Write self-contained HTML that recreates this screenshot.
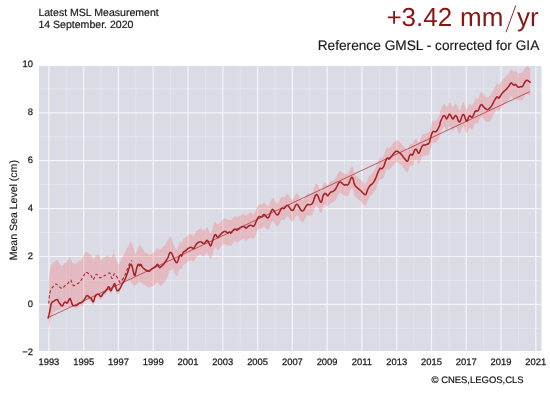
<!DOCTYPE html>
<html lang="en"><head><meta charset="utf-8"><title>Mean Sea Level</title>
<style>html,body{margin:0;padding:0;background:#fff;}body{width:550px;height:393px;position:relative;overflow:hidden;}</style>
</head><body>
<svg width="550" height="393" viewBox="0 0 550 393" style="position:absolute;left:0;top:0" text-rendering="geometricPrecision">
<rect width="550" height="393" fill="#fff"/>
<rect x="39.0" y="66.0" width="502.5" height="285.0" fill="#dadbe5"/>
<clipPath id="c"><rect x="39.0" y="66.0" width="502.5" height="285.0"/></clipPath>
<g clip-path="url(#c)">
<path d="M66.29,66.0V351.0M101.07,66.0V351.0M135.85,66.0V351.0M170.63,66.0V351.0M205.41,66.0V351.0M240.19,66.0V351.0M274.97,66.0V351.0M309.75,66.0V351.0M344.53,66.0V351.0M379.31,66.0V351.0M414.09,66.0V351.0M448.87,66.0V351.0M483.65,66.0V351.0M518.43,66.0V351.0M39.0,328.35H541.5M39.0,280.45H541.5M39.0,232.55H541.5M39.0,184.65H541.5M39.0,136.75H541.5M39.0,88.85H541.5" stroke="#fff" stroke-opacity="0.4" stroke-width="0.65" fill="none"/>
<path d="M48.90,66.0V351.0M83.68,66.0V351.0M118.46,66.0V351.0M153.24,66.0V351.0M188.02,66.0V351.0M222.80,66.0V351.0M257.58,66.0V351.0M292.36,66.0V351.0M327.14,66.0V351.0M361.92,66.0V351.0M396.70,66.0V351.0M431.48,66.0V351.0M466.26,66.0V351.0M501.04,66.0V351.0M535.82,66.0V351.0M39.0,352.30H541.5M39.0,304.40H541.5M39.0,256.50H541.5M39.0,208.60H541.5M39.0,160.70H541.5M39.0,112.80H541.5M39.0,64.90H541.5" stroke="#fff" stroke-opacity="0.72" stroke-width="1.2" fill="none"/>
<path d="M48.6,283.6C48.6,282.5 48.4,283.1 48.8,279.5C49.2,276.0 49.4,274.4 50.1,270.4C50.9,266.3 50.6,266.4 51.6,264.2C52.7,262.1 52.8,263.3 54.2,262.2C55.5,261.1 55.6,260.5 56.7,260.2C57.8,259.9 57.2,259.8 58.2,261.2C59.3,262.6 59.7,264.0 60.8,265.3C61.9,266.5 61.4,266.3 62.3,265.8C63.3,265.2 63.4,264.1 64.4,263.2C65.3,262.4 64.9,263.5 65.9,262.7C66.8,261.9 66.8,261.5 67.9,260.2C69.0,258.8 68.9,257.2 70.0,257.6C71.0,258.0 70.9,260.1 72.0,261.7C73.1,263.3 72.8,263.5 74.0,263.8C75.3,264.0 75.2,263.4 76.6,262.7C77.9,262.1 77.6,262.2 79.1,261.2C80.6,260.2 80.8,261.1 82.2,259.2C83.5,257.3 83.3,256.0 84.2,254.1C85.2,252.2 84.7,252.3 85.8,252.0C86.8,251.8 86.8,252.1 88.3,253.1C89.8,254.0 90.0,253.8 91.3,255.6C92.7,257.4 92.2,259.7 93.4,259.7C94.6,259.7 94.7,257.0 95.9,255.6C97.2,254.2 96.9,254.4 98.0,254.6C99.0,254.7 99.1,254.7 99.8,256.1C100.5,257.6 99.8,259.4 100.6,260.0C101.4,260.7 101.7,259.3 102.9,258.5C104.1,257.7 103.8,257.8 105.2,257.0C106.6,256.2 106.8,255.2 108.2,255.4C109.7,255.7 109.3,258.0 110.5,257.8C111.8,257.5 111.8,255.7 112.8,254.7C113.9,253.7 113.3,252.3 114.4,253.9C115.4,255.6 115.4,258.2 116.7,260.8C117.9,263.4 117.9,263.9 119.0,263.9C120.0,263.8 119.6,262.7 120.6,260.6C121.7,258.4 121.7,258.2 122.9,256.0C124.1,253.7 124.0,254.4 125.2,252.2C126.4,249.9 126.3,250.0 127.5,247.6C128.7,245.1 128.8,244.4 129.8,243.0C130.8,241.6 130.5,241.4 131.3,242.2C132.1,243.0 132.0,243.6 132.8,246.0C133.7,248.5 133.5,249.3 134.4,251.4C135.2,253.4 134.9,254.7 135.9,253.7C136.9,252.7 137.1,249.8 138.2,247.6C139.3,245.3 139.0,245.3 140.0,245.3C141.0,245.3 140.9,245.9 142.0,247.6C143.1,249.2 143.1,250.0 144.3,251.4C145.5,252.8 145.2,252.1 146.6,252.9C148.0,253.7 148.0,254.4 149.6,254.4C151.3,254.4 151.3,253.7 152.7,252.9C154.1,252.1 153.8,252.6 155.0,251.4C156.2,250.2 156.0,248.7 157.3,248.3C158.5,247.9 158.1,250.1 159.6,249.8C161.0,249.6 161.2,248.8 162.6,247.6C164.0,246.3 163.7,246.9 164.9,245.3C166.1,243.6 166.0,243.5 167.2,241.4C168.4,239.4 168.5,238.9 169.5,237.6C170.5,236.4 170.2,235.7 171.0,236.9C171.8,238.1 171.8,239.9 172.6,242.2C173.4,244.5 173.3,243.9 174.1,245.6C174.9,247.3 174.9,247.6 175.6,248.7C176.4,249.7 176.2,249.8 176.9,249.4C177.5,249.0 177.4,248.8 178.1,247.1C178.7,245.5 178.6,244.8 179.3,243.3C180.0,241.9 179.9,241.9 180.5,241.8C181.2,241.7 181.1,243.5 181.8,242.9C182.4,242.3 182.2,240.8 183.0,239.5C183.7,238.3 183.7,238.9 184.5,238.3C185.3,237.7 185.2,238.0 186.0,237.3C186.8,236.6 186.7,236.4 187.6,235.8C188.4,235.2 188.3,235.4 189.1,235.0C189.9,234.6 189.8,234.3 190.6,234.3C191.4,234.2 191.4,234.3 192.1,234.8C192.9,235.2 192.7,235.9 193.3,235.8C194.0,235.7 193.9,235.3 194.6,234.3C195.2,233.3 195.1,233.1 195.8,232.0C196.5,230.9 196.5,230.9 197.3,230.2C198.1,229.5 198.0,229.7 198.8,229.3C199.7,228.9 199.6,228.7 200.4,228.7C201.2,228.7 201.1,228.8 201.9,229.3C202.7,229.8 202.6,230.4 203.4,230.6C204.2,230.7 204.2,230.4 205.0,229.8C205.7,229.2 205.5,228.9 206.2,228.3C206.8,227.7 206.7,227.1 207.4,227.6C208.1,228.0 208.0,228.6 208.6,229.9C209.3,231.1 209.3,231.3 209.8,232.2C210.4,233.0 210.2,233.5 210.8,232.9C211.3,232.3 211.3,231.7 212.0,229.9C212.6,228.1 212.6,228.0 213.2,226.1C213.9,224.2 213.8,223.9 214.4,222.7C215.1,221.6 215.0,221.5 215.7,221.8C216.3,222.1 216.2,223.1 216.9,223.8C217.5,224.6 217.4,224.8 218.1,224.6C218.7,224.4 218.7,223.8 219.3,223.1C220.0,222.3 219.9,222.6 220.5,221.9C221.2,221.1 221.0,221.0 221.8,220.4C222.5,219.7 222.5,219.8 223.3,219.3C224.1,218.8 224.0,218.5 224.8,218.5C225.6,218.6 225.5,218.9 226.3,219.3C227.2,219.7 227.1,220.1 227.9,220.1C228.7,220.1 228.6,219.3 229.4,219.4C230.2,219.4 230.1,220.6 230.9,220.4C231.7,220.2 231.6,219.6 232.4,218.6C233.3,217.6 233.2,217.4 234.0,216.8C234.8,216.2 234.7,216.2 235.5,216.3C236.3,216.5 236.2,217.4 237.0,217.4C237.8,217.4 237.7,216.9 238.6,216.4C239.4,215.8 239.3,215.8 240.1,215.3C240.9,214.8 240.8,214.8 241.6,214.4C242.4,214.0 242.3,213.8 243.1,213.8C244.0,213.8 243.9,214.0 244.7,214.5C245.4,214.9 245.2,215.7 245.9,215.7C246.6,215.7 246.6,215.1 247.4,214.5C248.3,213.8 248.2,213.7 249.1,213.3C249.9,212.8 249.8,212.6 250.6,212.7C251.4,212.7 251.3,213.0 252.1,213.3C252.9,213.7 252.8,214.3 253.6,213.9C254.5,213.4 254.3,213.2 255.2,211.6C256.0,210.0 255.9,209.6 256.7,207.9C257.5,206.2 257.5,206.3 258.2,205.3C259.0,204.4 258.8,204.6 259.4,204.5C260.1,204.4 260.0,205.0 260.7,205.0C261.3,204.9 261.2,204.8 261.9,204.3C262.5,203.8 262.5,203.6 263.1,203.1C263.8,202.6 263.7,202.3 264.3,202.5C265.0,202.8 264.9,203.3 265.6,204.1C266.2,205.0 266.1,205.2 266.8,205.7C267.4,206.2 267.3,206.4 268.0,206.1C268.6,205.8 268.6,205.8 269.2,204.6C269.9,203.4 269.8,203.1 270.4,201.6C271.1,200.1 271.0,199.9 271.7,198.9C272.3,197.9 272.2,197.7 272.9,197.8C273.5,198.0 273.4,198.5 274.1,199.4C274.8,200.4 274.7,200.5 275.3,201.4C276.0,202.4 275.9,202.5 276.6,203.0C277.2,203.5 277.1,203.6 277.8,203.3C278.4,203.0 278.3,202.9 279.0,201.8C279.6,200.7 279.6,200.3 280.2,199.1C280.9,197.9 280.8,198.0 281.4,197.3C282.1,196.6 282.0,196.5 282.6,196.6C283.3,196.6 283.2,197.5 283.9,197.3C284.5,197.2 284.4,196.9 285.1,196.2C285.8,195.4 285.7,195.2 286.3,194.7C287.0,194.1 286.9,193.9 287.5,194.1C288.2,194.2 288.1,194.3 288.8,195.2C289.4,196.0 289.3,196.2 290.0,197.2C290.6,198.2 290.6,198.2 291.2,198.8C291.9,199.3 291.8,199.5 292.4,199.4C293.1,199.3 293.0,199.3 293.6,198.4C294.3,197.4 294.2,197.0 294.9,195.8C295.5,194.6 295.4,194.5 296.1,193.8C296.7,193.2 296.7,193.1 297.3,193.4C298.0,193.7 297.9,193.9 298.5,195.0C299.2,196.0 299.1,196.3 299.8,197.4C300.4,198.6 300.3,198.6 301.0,199.3C301.6,200.0 301.5,200.0 302.2,200.1C302.9,200.1 302.8,200.2 303.4,199.6C304.1,199.0 304.0,198.9 304.6,197.8C305.3,196.7 305.2,196.5 305.9,195.5C306.5,194.4 306.4,194.5 307.1,193.9C307.7,193.4 307.7,193.5 308.3,193.5C309.0,193.5 308.9,193.9 309.5,193.9C310.2,193.9 310.1,193.8 310.8,193.5C311.4,193.2 311.3,193.6 312.0,192.9C312.6,192.2 312.5,192.4 313.2,190.9C313.9,189.3 313.8,188.8 314.4,187.1C315.1,185.3 315.0,185.2 315.6,184.3C316.3,183.4 316.2,183.4 316.9,183.7C317.5,184.0 317.4,184.3 318.1,185.6C318.7,186.9 318.7,187.2 319.3,188.6C320.0,190.0 319.9,190.4 320.5,190.9C321.2,191.4 321.1,191.8 321.8,190.4C322.4,189.0 322.3,187.5 322.9,185.6C323.5,183.7 323.5,184.2 324.1,183.3C324.8,182.5 324.7,182.4 325.3,182.6C326.0,182.7 325.9,183.2 326.6,183.8C327.2,184.4 327.1,185.0 327.8,184.9C328.4,184.8 328.3,184.2 329.0,183.3C329.7,182.5 329.6,182.4 330.2,181.8C330.9,181.2 330.8,181.3 331.4,181.1C332.1,180.8 332.0,181.1 332.7,180.7C333.3,180.4 333.2,180.4 333.9,179.8C334.5,179.3 334.5,179.6 335.1,178.8C335.8,178.0 335.7,178.0 336.3,176.8C337.0,175.6 336.9,175.4 337.6,174.2C338.2,173.0 338.1,173.0 338.8,172.2C339.4,171.4 339.3,171.3 340.0,171.1C340.6,171.0 340.6,171.2 341.2,171.6C341.9,172.0 341.8,172.1 342.4,172.7C343.1,173.2 343.0,173.3 343.7,173.7C344.3,174.1 344.2,174.2 344.9,174.2C345.5,174.2 345.4,173.7 346.1,173.7C346.8,173.7 346.7,174.4 347.3,174.2C348.0,174.0 347.9,174.1 348.6,173.1C349.2,172.1 349.1,171.9 349.8,170.4C350.4,168.8 350.3,168.3 351.0,167.3C351.6,166.3 351.6,166.4 352.2,166.6C352.8,166.8 352.6,166.7 353.1,168.1C353.6,169.5 353.5,170.1 354.0,171.9C354.6,173.7 354.6,173.8 355.3,175.0C355.9,176.1 355.8,175.6 356.5,176.2C357.1,176.8 357.1,176.7 357.7,177.3C358.4,177.8 358.3,177.8 358.9,178.3C359.6,178.9 359.5,178.7 360.1,179.2C360.8,179.8 360.7,179.6 361.4,180.3C362.0,181.0 361.9,181.1 362.6,181.8C363.3,182.5 363.2,182.4 363.8,182.9C364.5,183.4 364.5,183.7 365.0,183.8C365.6,184.0 365.5,184.1 366.0,183.4C366.4,182.6 366.3,182.6 366.9,181.1C367.4,179.6 367.4,179.2 368.1,177.7C368.7,176.3 368.7,176.7 369.3,175.7C370.0,174.8 369.9,174.8 370.5,174.2C371.2,173.6 371.1,174.0 371.8,173.4C372.4,172.9 372.3,173.0 373.0,172.2C373.6,171.4 373.5,171.5 374.2,170.4C374.9,169.3 374.8,169.5 375.4,168.1C376.1,166.7 376.0,166.8 376.6,165.1C377.3,163.3 377.2,163.2 377.9,161.5C378.5,159.9 378.4,160.0 379.1,158.9C379.7,157.8 379.7,157.7 380.3,157.4C381.0,157.1 380.9,158.0 381.5,157.9C382.2,157.8 382.1,157.7 382.8,157.0C383.4,156.2 383.3,156.6 384.0,155.1C384.6,153.6 384.5,153.2 385.2,151.3C385.9,149.5 385.8,149.4 386.4,148.3C387.1,147.2 387.0,147.2 387.6,147.2C388.3,147.2 388.2,148.3 388.9,148.3C389.5,148.3 389.4,147.9 390.1,147.2C390.7,146.5 390.7,146.4 391.3,145.7C391.9,144.9 391.8,145.1 392.4,144.3C393.1,143.6 393.0,143.6 393.7,142.8C394.3,142.0 394.2,141.9 394.9,141.3C395.5,140.7 395.5,140.7 396.1,140.5C396.8,140.3 396.7,140.3 397.3,140.5C398.0,140.7 397.9,140.9 398.6,141.3C399.2,141.7 399.1,141.5 399.8,142.1C400.4,142.6 400.3,142.5 401.0,143.3C401.7,144.0 401.6,144.0 402.2,144.8C402.9,145.6 402.8,145.5 403.4,146.3C404.1,147.2 404.0,147.1 404.7,147.9C405.3,148.7 405.2,148.7 405.9,149.4C406.5,150.1 406.5,150.4 407.1,150.5C407.7,150.5 407.5,150.7 408.0,149.7C408.5,148.7 408.5,148.1 408.9,146.6C409.4,145.2 409.3,145.2 409.9,144.4C410.4,143.5 410.4,143.6 411.1,143.6C411.7,143.6 411.7,144.6 412.3,144.4C412.9,144.2 412.7,143.8 413.2,142.8C413.7,141.8 413.6,141.6 414.1,140.5C414.7,139.4 414.7,139.1 415.4,138.7C416.0,138.3 416.0,138.4 416.6,139.0C417.1,139.6 417.0,140.0 417.5,140.8C418.0,141.7 417.9,142.1 418.4,142.4C418.9,142.6 418.8,142.5 419.3,141.8C419.8,141.1 419.7,141.1 420.2,139.8C420.8,138.4 420.8,138.1 421.5,136.7C422.1,135.3 422.0,135.4 422.7,134.7C423.3,134.0 423.3,134.2 423.9,134.1C424.6,133.9 424.5,134.2 425.1,134.0C425.8,133.9 425.7,133.8 426.4,133.5C427.0,133.3 426.9,133.4 427.6,133.1C428.2,132.8 428.2,133.1 428.8,132.4C429.4,131.7 429.2,131.9 429.7,130.4C430.2,129.0 430.1,128.7 430.6,126.9C431.1,125.1 431.1,125.0 431.5,123.5C432.0,122.0 431.9,122.0 432.5,121.2C433.0,120.4 433.0,120.5 433.7,120.4C434.3,120.3 434.2,120.7 434.9,120.7C435.6,120.7 435.5,120.9 436.1,120.4C436.8,119.9 436.7,119.8 437.4,118.8C438.0,117.8 437.9,117.8 438.6,116.5C439.2,115.2 439.4,115.2 439.8,113.9C440.2,112.6 439.7,113.2 440.1,111.7C440.4,110.3 440.6,110.2 441.3,108.6C441.9,107.1 441.8,107.1 442.5,105.9C443.1,104.8 443.1,104.7 443.7,104.3C444.4,104.0 444.4,104.0 444.9,104.6C445.5,105.1 445.4,105.7 445.9,106.4C446.3,107.1 446.3,107.4 446.8,107.2C447.3,107.0 447.2,106.6 447.7,105.6C448.2,104.7 448.1,104.4 448.6,103.6C449.1,102.8 449.0,102.6 449.5,102.5C450.0,102.3 450.0,102.4 450.4,103.0C450.9,103.7 450.9,104.1 451.4,105.0C451.8,106.0 451.8,106.0 452.3,106.5C452.8,107.1 452.7,107.3 453.2,107.0C453.7,106.7 453.6,106.3 454.1,105.4C454.6,104.6 454.5,104.3 455.0,103.9C455.5,103.5 455.4,103.6 455.9,103.9C456.4,104.2 456.4,104.0 456.9,105.0C457.3,105.9 457.3,106.3 457.8,107.5C458.3,108.7 458.2,108.9 458.7,109.5C459.2,110.2 459.1,110.2 459.6,110.0C460.1,109.7 460.0,109.8 460.5,108.7C461.0,107.6 460.9,107.4 461.4,106.0C461.9,104.5 461.9,104.3 462.4,103.4C462.8,102.4 462.8,102.6 463.3,102.6C463.8,102.6 463.7,102.4 464.2,103.3C464.7,104.2 464.6,104.6 465.1,105.9C465.6,107.3 465.5,107.5 466.0,108.3C466.5,109.2 466.4,109.2 466.9,108.9C467.4,108.7 467.4,108.5 467.9,107.4C468.3,106.3 468.3,105.8 468.8,104.8C469.2,103.8 469.2,103.8 469.7,103.7C470.2,103.6 470.1,103.9 470.6,104.3C471.1,104.7 471.0,105.1 471.5,105.2C472.0,105.3 471.9,105.3 472.4,104.8C472.9,104.2 472.9,104.2 473.4,103.2C473.8,102.2 473.8,102.0 474.3,100.9C474.7,99.8 474.7,99.7 475.2,99.1C475.7,98.4 475.6,98.6 476.1,98.6C476.6,98.6 476.5,99.0 477.0,99.0C477.5,99.0 477.4,99.1 477.9,98.6C478.4,98.0 478.4,98.1 478.8,97.0C479.3,95.9 479.3,95.5 479.8,94.4C480.3,93.3 480.2,93.4 480.7,92.9C481.2,92.3 481.1,92.3 481.6,92.4C482.1,92.5 481.9,92.5 482.5,93.1C483.1,93.7 483.1,93.9 483.7,94.6C484.4,95.3 484.3,95.2 484.9,95.8C485.6,96.4 485.5,96.4 486.2,96.8C486.8,97.2 486.7,97.2 487.4,97.2C488.1,97.2 488.0,97.1 488.6,96.7C489.3,96.3 489.2,96.3 489.8,95.6C490.5,94.9 490.4,95.0 491.1,94.0C491.7,93.0 491.6,93.1 492.3,92.0C492.9,90.8 492.6,91.4 493.5,89.6C494.4,87.9 494.8,86.9 495.8,85.4C496.8,83.8 496.5,83.8 497.3,83.8C498.1,83.8 498.0,85.5 498.8,85.3C499.7,85.0 499.3,84.4 500.4,82.9C501.4,81.5 501.4,81.2 502.6,79.8C503.9,78.3 503.7,78.7 504.9,77.4C506.2,76.1 506.0,76.5 507.2,75.0C508.5,73.5 508.5,73.3 509.5,71.9C510.5,70.4 510.2,69.8 511.1,69.5C511.9,69.2 511.8,70.1 512.6,70.7C513.4,71.3 513.3,71.7 514.1,71.7C514.9,71.8 514.8,70.7 515.6,70.9C516.5,71.2 516.3,72.0 517.2,72.7C518.0,73.5 517.9,73.5 518.7,73.6C519.5,73.7 519.2,73.4 520.2,73.1C521.2,72.9 521.5,73.5 522.5,72.6C523.5,71.8 523.2,71.4 524.0,70.0C524.9,68.6 524.7,68.3 525.6,67.4C526.4,66.4 526.3,66.5 527.1,66.4C527.9,66.4 527.8,66.8 528.6,67.3C529.4,67.8 529.7,68.1 530.1,68.4L530.1,95.9C529.7,95.6 529.4,95.4 528.6,94.8C527.8,94.3 527.9,93.9 527.1,93.9C526.3,93.9 526.4,93.9 525.6,94.8C524.7,95.7 524.9,96.0 524.0,97.3C523.2,98.7 523.5,99.1 522.5,99.9C521.5,100.7 521.2,100.1 520.2,100.3C519.2,100.5 519.5,100.9 518.7,100.7C517.9,100.6 518.0,100.5 517.2,99.8C516.3,99.0 516.5,98.2 515.6,97.9C514.8,97.6 514.9,98.8 514.1,98.7C513.3,98.6 513.4,98.2 512.6,97.6C511.8,96.9 511.9,96.0 511.1,96.3C510.2,96.6 510.5,97.2 509.5,98.5C508.5,99.9 508.5,100.1 507.2,101.5C506.0,102.9 506.2,102.5 504.9,103.7C503.7,104.9 503.9,104.5 502.6,105.9C501.4,107.3 501.4,107.5 500.4,108.9C499.3,110.2 499.7,110.9 498.8,111.1C498.0,111.3 498.1,109.5 497.3,109.5C496.5,109.5 496.8,109.5 495.8,111.0C494.8,112.4 494.4,113.4 493.5,115.0C492.6,116.7 492.9,116.2 492.3,117.3C491.6,118.4 491.7,118.3 491.1,119.2C490.4,120.1 490.5,120.0 489.8,120.7C489.2,121.4 489.3,121.3 488.6,121.7C488.0,122.1 488.1,122.1 487.4,122.1C486.7,122.1 486.8,122.0 486.2,121.6C485.5,121.2 485.6,121.1 484.9,120.5C484.3,119.9 484.4,120.0 483.7,119.2C483.1,118.5 483.1,118.3 482.5,117.6C481.9,117.0 482.1,116.9 481.6,116.8C481.1,116.7 481.2,116.8 480.7,117.3C480.2,117.8 480.3,117.7 479.8,118.8C479.3,119.9 479.3,120.3 478.8,121.4C478.4,122.5 478.4,122.4 477.9,122.9C477.4,123.4 477.5,123.3 477.0,123.3C476.5,123.3 476.6,122.9 476.1,122.9C475.6,122.9 475.7,122.7 475.2,123.3C474.7,123.9 474.7,124.0 474.3,125.1C473.8,126.2 473.8,126.4 473.4,127.4C472.9,128.4 472.9,128.4 472.4,128.9C471.9,129.5 472.0,129.5 471.5,129.4C471.0,129.2 471.1,128.9 470.6,128.4C470.1,128.0 470.2,127.7 469.7,127.8C469.2,127.9 469.2,127.9 468.8,128.9C468.3,129.9 468.3,130.4 467.9,131.5C467.4,132.6 467.4,132.7 466.9,133.0C466.4,133.2 466.5,133.2 466.0,132.4C465.5,131.5 465.6,131.3 465.1,129.9C464.6,128.6 464.7,128.2 464.2,127.3C463.7,126.4 463.8,126.5 463.3,126.5C462.8,126.5 462.8,126.4 462.4,127.3C461.9,128.2 461.9,128.4 461.4,129.9C460.9,131.3 461.0,131.5 460.5,132.6C460.0,133.6 460.1,133.6 459.6,133.8C459.1,134.0 459.2,134.0 458.7,133.3C458.2,132.7 458.3,132.6 457.8,131.3C457.3,130.1 457.3,129.7 456.9,128.7C456.4,127.7 456.4,127.9 455.9,127.6C455.4,127.4 455.5,127.2 455.0,127.6C454.5,128.0 454.6,128.3 454.1,129.1C453.6,129.9 453.7,130.4 453.2,130.7C452.7,130.9 452.8,130.7 452.3,130.2C451.8,129.7 451.8,129.6 451.4,128.7C450.9,127.7 450.9,127.4 450.4,126.7C450.0,126.0 450.0,125.9 449.5,126.0C449.0,126.1 449.1,126.2 448.6,127.0C448.1,127.8 448.2,128.0 447.7,129.0C447.2,129.9 447.3,130.3 446.8,130.4C446.3,130.6 446.3,130.2 445.9,129.5C445.4,128.7 445.5,128.2 444.9,127.6C444.4,127.0 444.4,126.9 443.7,127.2C443.1,127.5 443.1,127.6 442.5,128.6C441.8,129.7 441.9,129.7 441.3,131.2C440.6,132.6 440.4,132.8 440.1,134.2C439.7,135.5 440.2,135.0 439.8,136.3C439.4,137.5 439.2,137.6 438.6,138.8C437.9,140.1 438.0,140.1 437.4,141.1C436.7,142.1 436.8,142.1 436.1,142.6C435.5,143.1 435.6,142.9 434.9,142.9C434.2,142.9 434.3,142.5 433.7,142.6C433.0,142.7 433.0,142.5 432.5,143.3C431.9,144.1 432.0,144.1 431.5,145.6C431.1,147.1 431.1,147.1 430.6,148.9C430.1,150.7 430.2,151.0 429.7,152.4C429.2,153.9 429.4,153.7 428.8,154.4C428.2,155.1 428.2,154.7 427.6,155.0C426.9,155.2 427.0,155.2 426.4,155.4C425.7,155.6 425.8,155.7 425.1,155.8C424.5,155.9 424.6,155.7 423.9,155.8C423.3,156.0 423.3,155.7 422.7,156.4C422.0,157.1 422.1,157.0 421.5,158.4C420.8,159.7 420.8,160.0 420.2,161.4C419.7,162.7 419.8,162.7 419.3,163.4C418.8,164.1 418.9,164.2 418.4,164.0C417.9,163.7 418.0,163.3 417.5,162.5C417.0,161.6 417.1,161.2 416.6,160.6C416.0,160.1 416.0,159.9 415.4,160.3C414.7,160.7 414.7,161.1 414.1,162.2C413.6,163.3 413.7,163.4 413.2,164.4C412.7,165.5 412.9,165.8 412.3,166.0C411.7,166.2 411.7,165.2 411.1,165.2C410.4,165.2 410.4,165.2 409.9,166.0C409.3,166.8 409.4,166.8 408.9,168.3C408.5,169.7 408.5,170.3 408.0,171.3C407.5,172.3 407.7,172.2 407.1,172.1C406.5,172.0 406.5,171.7 405.9,171.0C405.2,170.3 405.3,170.3 404.7,169.5C404.0,168.7 404.1,168.8 403.4,168.0C402.8,167.1 402.9,167.3 402.2,166.4C401.6,165.6 401.7,165.6 401.0,164.9C400.3,164.2 400.4,164.2 399.8,163.7C399.1,163.2 399.2,163.3 398.6,162.9C397.9,162.5 398.0,162.4 397.3,162.2C396.7,162.0 396.8,162.0 396.1,162.2C395.5,162.4 395.5,162.3 394.9,162.9C394.2,163.5 394.3,163.6 393.7,164.5C393.0,165.3 393.1,165.2 392.4,166.0C391.8,166.7 391.9,166.6 391.3,167.3C390.7,168.1 390.7,168.2 390.1,168.8C389.4,169.5 389.5,169.9 388.9,169.9C388.2,169.9 388.3,168.8 387.6,168.8C387.0,168.8 387.1,168.8 386.4,169.9C385.8,171.0 385.9,171.1 385.2,173.0C384.5,174.8 384.6,175.3 384.0,176.8C383.3,178.3 383.4,177.9 382.8,178.6C382.1,179.4 382.2,179.4 381.5,179.5C380.9,179.7 381.0,178.8 380.3,179.1C379.7,179.4 379.7,179.5 379.1,180.6C378.4,181.7 378.5,181.6 377.9,183.2C377.2,184.8 377.3,185.0 376.6,186.7C376.0,188.5 376.1,188.4 375.4,189.8C374.8,191.2 374.9,191.0 374.2,192.1C373.5,193.2 373.6,193.1 373.0,193.9C372.3,194.7 372.4,194.6 371.8,195.1C371.1,195.7 371.2,195.3 370.5,195.9C369.9,196.5 370.0,196.5 369.3,197.4C368.7,198.4 368.7,198.0 368.1,199.4C367.4,200.8 367.4,201.3 366.9,202.8C366.3,204.3 366.4,204.3 366.0,205.1C365.5,205.8 365.6,205.6 365.0,205.5C364.5,205.4 364.5,205.1 363.8,204.6C363.2,204.1 363.3,204.2 362.6,203.5C361.9,202.8 362.0,202.7 361.4,202.0C360.7,201.3 360.8,201.5 360.1,200.9C359.5,200.4 359.6,200.6 358.9,200.0C358.3,199.5 358.4,199.5 357.7,199.0C357.1,198.4 357.1,198.5 356.5,197.9C355.8,197.3 355.9,197.8 355.3,196.7C354.6,195.5 354.6,195.4 354.0,193.6C353.5,191.8 353.6,191.2 353.1,189.8C352.6,188.4 352.8,188.5 352.2,188.3C351.6,188.1 351.6,188.0 351.0,189.0C350.3,190.1 350.4,190.5 349.8,192.1C349.1,193.6 349.2,193.8 348.6,194.8C347.9,195.9 348.0,195.7 347.3,195.9C346.7,196.1 346.8,195.5 346.1,195.5C345.4,195.5 345.5,195.9 344.9,195.9C344.2,195.9 344.3,195.9 343.7,195.5C343.0,195.1 343.1,195.0 342.4,194.4C341.8,193.8 341.9,193.7 341.2,193.3C340.6,192.9 340.6,192.7 340.0,192.9C339.3,193.0 339.4,193.1 338.8,193.9C338.1,194.8 338.2,194.7 337.6,195.9C336.9,197.1 337.0,197.3 336.3,198.5C335.7,199.7 335.8,199.7 335.1,200.5C334.5,201.3 334.5,201.1 333.9,201.6C333.2,202.1 333.3,202.2 332.7,202.5C332.0,202.8 332.1,202.5 331.4,202.8C330.8,203.1 330.9,203.0 330.2,203.6C329.6,204.2 329.7,204.3 329.0,205.1C328.3,205.9 328.4,206.5 327.8,206.6C327.1,206.8 327.2,206.2 326.6,205.6C325.9,204.9 326.0,204.5 325.3,204.3C324.7,204.2 324.8,204.3 324.1,205.1C323.5,205.9 323.5,205.5 322.9,207.4C322.3,209.3 322.4,210.8 321.8,212.2C321.1,213.6 321.2,213.2 320.5,212.7C319.9,212.2 320.0,211.8 319.3,210.4C318.7,209.0 318.7,208.6 318.1,207.3C317.4,206.0 317.5,205.8 316.9,205.5C316.2,205.2 316.3,205.2 315.6,206.1C315.0,207.0 315.1,207.1 314.4,208.8C313.8,210.6 313.9,211.1 313.2,212.7C312.5,214.2 312.6,214.0 312.0,214.7C311.3,215.4 311.4,215.0 310.8,215.3C310.1,215.6 310.2,215.7 309.5,215.7C308.9,215.7 309.0,215.3 308.3,215.3C307.7,215.3 307.7,215.2 307.1,215.7C306.4,216.3 306.5,216.2 305.9,217.3C305.2,218.3 305.3,218.4 304.6,219.5C304.0,220.6 304.1,220.8 303.4,221.4C302.8,222.0 302.9,221.9 302.2,221.8C301.5,221.8 301.6,221.8 301.0,221.1C300.3,220.4 300.4,220.4 299.8,219.3C299.1,218.1 299.2,217.9 298.5,216.8C297.9,215.8 298.0,215.6 297.3,215.3C296.7,215.1 296.7,215.2 296.1,215.8C295.4,216.5 295.5,216.6 294.9,217.8C294.2,219.1 294.3,219.5 293.6,220.5C293.0,221.5 293.1,221.4 292.4,221.6C291.8,221.7 291.9,221.6 291.2,221.0C290.6,220.4 290.6,220.4 290.0,219.5C289.3,218.6 289.4,218.3 288.8,217.5C288.1,216.7 288.2,216.6 287.5,216.5C286.9,216.4 287.0,216.6 286.3,217.2C285.7,217.7 285.8,218.0 285.1,218.7C284.4,219.4 284.5,219.8 283.9,220.0C283.2,220.1 283.3,219.2 282.6,219.2C282.0,219.2 282.1,219.3 281.4,220.0C280.8,220.7 280.9,220.6 280.2,221.9C279.6,223.1 279.6,223.5 279.0,224.7C278.3,225.8 278.4,225.9 277.8,226.2C277.1,226.6 277.2,226.4 276.6,225.9C275.9,225.5 276.0,225.4 275.3,224.4C274.7,223.5 274.8,223.4 274.1,222.5C273.4,221.6 273.5,221.1 272.9,221.0C272.2,220.9 272.3,221.1 271.7,222.1C271.0,223.1 271.1,223.3 270.4,224.9C269.8,226.5 269.9,226.8 269.2,228.0C268.6,229.3 268.6,229.2 268.0,229.6C267.3,229.9 267.4,229.8 266.8,229.3C266.1,228.9 266.2,228.6 265.6,227.9C264.9,227.1 265.0,226.6 264.3,226.4C263.7,226.2 263.8,226.5 263.1,227.0C262.5,227.5 262.5,227.7 261.9,228.3C261.2,228.9 261.3,229.0 260.7,229.1C260.0,229.2 260.1,228.6 259.4,228.7C258.8,228.9 259.0,228.7 258.2,229.7C257.5,230.6 257.5,230.6 256.7,232.3C255.9,234.1 256.0,234.6 255.2,236.2C254.3,237.9 254.5,238.0 253.6,238.6C252.8,239.1 252.9,238.4 252.1,238.2C251.3,237.9 251.4,237.6 250.6,237.6C249.8,237.7 249.9,237.8 249.1,238.3C248.2,238.8 248.3,238.9 247.4,239.5C246.6,240.2 246.6,240.8 245.9,240.8C245.2,240.8 245.4,240.0 244.7,239.5C243.9,239.1 244.0,238.9 243.1,239.0C242.3,239.0 242.4,239.2 241.6,239.6C240.8,240.0 240.9,240.0 240.1,240.5C239.3,241.0 239.4,241.0 238.6,241.6C237.7,242.2 237.8,242.7 237.0,242.7C236.2,242.7 236.3,241.8 235.5,241.6C234.7,241.5 234.8,241.5 234.0,242.1C233.2,242.7 233.3,242.9 232.4,243.9C231.6,244.9 231.7,245.6 230.9,245.8C230.1,246.0 230.2,244.8 229.4,244.7C228.6,244.6 228.7,245.5 227.9,245.5C227.1,245.5 227.2,245.2 226.3,244.8C225.5,244.4 225.6,244.0 224.8,244.0C224.0,244.0 224.1,244.3 223.3,244.8C222.5,245.3 222.5,245.2 221.8,245.9C221.0,246.6 221.2,246.7 220.5,247.4C219.9,248.1 220.0,247.9 219.3,248.6C218.7,249.4 218.7,250.0 218.1,250.2C217.4,250.4 217.5,250.1 216.9,249.4C216.2,248.7 216.3,247.7 215.7,247.4C215.0,247.2 215.1,247.2 214.4,248.4C213.8,249.5 213.9,249.8 213.2,251.7C212.6,253.7 212.6,253.7 212.0,255.6C211.3,257.4 211.3,258.0 210.8,258.6C210.2,259.2 210.4,258.7 209.8,257.9C209.3,257.1 209.3,256.8 208.6,255.6C208.0,254.4 208.1,253.7 207.4,253.3C206.7,252.9 206.8,253.5 206.2,254.1C205.5,254.7 205.7,255.0 205.0,255.6C204.2,256.3 204.2,256.5 203.4,256.4C202.6,256.3 202.7,255.7 201.9,255.2C201.1,254.7 201.2,254.6 200.4,254.6C199.6,254.6 199.7,254.8 198.8,255.2C198.0,255.6 198.1,255.4 197.3,256.2C196.5,256.9 196.5,256.9 195.8,258.0C195.1,259.1 195.2,259.3 194.6,260.3C193.9,261.3 194.0,261.7 193.3,261.8C192.7,262.0 192.9,261.2 192.1,260.8C191.4,260.4 191.4,260.3 190.6,260.3C189.8,260.4 189.9,260.7 189.1,261.1C188.3,261.5 188.4,261.3 187.6,261.9C186.7,262.5 186.8,262.7 186.0,263.4C185.2,264.1 185.3,263.9 184.5,264.5C183.7,265.1 183.7,264.5 183.0,265.8C182.2,267.0 182.4,268.5 181.8,269.1C181.1,269.7 181.2,267.9 180.5,268.1C179.9,268.2 180.0,268.2 179.3,269.6C178.6,271.0 178.7,271.8 178.1,273.4C177.4,275.1 177.5,275.3 176.9,275.7C176.2,276.2 176.4,276.0 175.6,275.0C174.9,274.0 174.9,273.6 174.1,271.9C173.3,270.2 173.4,269.0 172.6,268.6C171.8,268.2 171.8,269.8 171.0,270.5C170.2,271.2 170.5,269.4 169.5,271.2C168.5,273.1 168.4,274.7 167.2,277.4C166.0,280.0 166.1,279.3 164.9,281.2C163.7,283.0 163.8,283.0 162.6,284.2C161.4,285.4 161.6,286.2 160.3,285.8C159.1,285.3 159.3,283.3 158.0,282.7C156.8,282.1 157.0,282.6 155.8,283.4C154.5,284.3 154.7,284.9 153.4,285.8C152.2,286.6 152.6,286.4 151.2,286.8C149.7,287.2 149.5,287.6 148.1,287.3C146.7,287.0 147.0,286.6 145.8,285.8C144.6,284.9 144.8,285.0 143.5,284.2C142.3,283.4 142.5,283.3 141.2,282.7C140.0,282.1 140.2,281.5 138.9,281.9C137.7,282.3 137.9,283.2 136.7,284.2C135.4,285.2 135.6,286.0 134.4,285.8C133.1,285.5 133.3,284.7 132.1,283.4C130.8,282.2 131.0,282.0 129.8,281.2C128.6,280.3 128.7,280.4 127.5,280.4C126.3,280.4 126.4,280.3 125.2,281.2C124.0,282.0 124.1,281.8 122.9,283.4C121.7,285.1 121.4,285.0 120.6,287.3C119.8,289.6 120.7,290.2 119.8,292.0C119.0,293.8 118.5,294.2 117.4,293.9C116.4,293.6 116.6,292.7 115.9,290.8C115.2,289.0 115.3,287.6 114.7,287.0C114.1,286.4 114.3,287.3 113.6,288.6C112.9,289.8 112.9,290.2 112.1,291.6C111.3,293.0 111.4,294.3 110.5,293.9C109.7,293.5 109.8,290.7 109.0,290.1C108.2,289.5 108.5,290.4 107.5,291.6C106.5,292.8 106.4,293.2 105.2,294.6C104.0,296.1 104.1,295.6 102.9,296.9C101.8,298.3 102.0,299.5 100.9,299.7C99.9,299.9 99.9,298.4 99.0,297.8C98.1,297.2 98.2,297.4 97.5,297.5C96.7,297.6 96.8,297.3 96.1,298.1C95.5,298.8 95.5,298.8 94.9,300.3C94.3,301.9 94.4,302.7 93.9,303.9C93.3,305.1 93.4,305.2 92.9,304.9C92.3,304.6 92.4,303.8 91.8,302.9C91.3,301.9 91.5,302.0 90.8,301.3C90.2,300.7 90.1,300.9 89.3,300.3C88.5,299.7 88.7,299.5 88.0,299.1C87.3,298.7 87.4,298.5 86.8,298.8C86.2,299.1 86.4,299.2 85.8,300.3C85.1,301.4 85.0,301.6 84.2,302.9C83.4,304.1 83.5,304.1 82.7,304.9C81.9,305.7 82.0,305.6 81.2,305.9C80.3,306.3 80.5,305.8 79.6,306.2C78.8,306.6 78.9,306.9 78.1,307.4C77.3,308.0 77.8,308.7 76.6,308.5C75.4,308.2 75.4,306.9 73.5,306.5C71.6,306.1 71.9,306.5 69.5,306.9C67.1,307.3 67.1,307.3 64.4,308.0C61.7,308.7 61.8,308.5 59.3,309.4C56.8,310.3 56.8,310.3 55.0,311.4C53.2,312.5 53.7,311.7 52.5,313.7C51.3,315.7 51.4,316.0 50.5,319.0C49.6,322.0 49.7,322.1 49.1,325.0C48.5,327.9 48.5,328.7 48.3,330.0Z" fill="#f86d70" fill-opacity="0.3" stroke="none"/>
<path d="M48.3,317.5L529.8,91.6" stroke="#a52226" stroke-width="0.8" stroke-opacity="0.85" fill="none"/>
<path d="M48.8,303.5C48.9,301.8 48.9,300.1 49.3,297.0C49.7,293.9 49.7,293.9 50.2,291.8C50.7,289.7 50.5,290.4 51.1,289.2C51.8,288.0 51.8,288.2 52.6,287.2C53.5,286.2 53.4,286.2 54.2,285.4C55.0,284.6 54.9,284.3 55.7,284.1C56.5,283.9 56.3,283.9 57.2,284.6C58.2,285.3 58.3,285.8 59.3,286.6C60.2,287.5 59.8,287.5 60.8,287.9C61.8,288.3 61.9,288.6 62.8,288.2C63.8,287.7 63.4,287.0 64.4,286.1C65.3,285.3 65.3,286.0 66.4,285.1C67.5,284.2 67.4,284.1 68.4,282.8C69.5,281.4 69.5,280.4 70.3,280.0C71.1,279.7 70.8,280.2 71.5,281.6C72.2,282.9 72.2,284.1 73.0,285.1C73.8,286.2 73.6,285.7 74.5,285.4C75.5,285.2 75.4,284.9 76.6,284.1C77.8,283.4 77.9,283.7 79.1,282.6C80.4,281.5 80.1,281.5 81.2,280.0C82.2,278.5 82.1,278.9 83.2,277.0C84.3,275.1 84.3,274.1 85.2,272.9C86.2,271.7 85.8,272.3 86.8,272.6C87.7,272.9 87.7,273.2 88.8,273.9C89.9,274.6 89.8,273.8 90.8,275.2C91.9,276.7 91.9,278.9 92.9,279.5C93.8,280.1 93.6,278.8 94.4,277.5C95.2,276.1 95.0,275.0 95.9,274.4C96.9,273.9 96.9,274.6 98.0,275.4C99.0,276.3 99.1,276.9 99.8,277.5C100.5,278.1 99.6,278.0 100.6,277.6C101.7,277.2 102.0,276.9 103.7,276.1C105.3,275.3 105.1,275.3 106.7,274.6C108.4,273.8 108.4,272.3 109.8,273.3C111.2,274.3 110.8,278.2 112.1,278.4C113.3,278.5 113.1,274.2 114.4,273.8C115.6,273.4 115.4,275.0 116.7,276.8C117.9,278.7 118.1,279.3 119.0,280.6C119.8,282.0 118.8,282.4 119.8,281.9C120.9,281.5 121.3,281.3 122.9,278.9C124.5,276.4 124.5,276.0 126.0,272.8C127.4,269.5 127.0,269.5 128.2,266.6C129.5,263.8 129.5,263.7 130.6,262.1C131.6,260.4 131.7,261.0 132.1,260.6" stroke="#a52226" stroke-width="1.05" stroke-dasharray="3.0,2.2" fill="none" stroke-linejoin="round"/>
<path d="M48.1,318.0C48.3,317.1 48.5,316.7 49.1,314.4C49.6,312.1 49.6,312.1 50.1,309.4C50.7,306.6 50.6,306.2 51.1,304.2C51.7,302.3 51.5,303.0 52.1,302.2C52.8,301.5 52.9,301.9 53.7,301.4C54.5,300.9 54.4,300.7 55.2,300.2C56.0,299.6 56.0,299.4 56.7,299.4C57.4,299.4 57.2,299.4 57.8,300.2C58.3,300.9 58.1,301.1 58.8,302.2C59.4,303.3 59.5,303.3 60.3,304.2C61.1,305.2 61.1,305.5 61.8,305.8C62.5,306.1 62.3,305.9 62.8,305.3C63.4,304.6 63.3,304.1 63.9,303.2C64.4,302.4 64.3,302.2 64.9,302.0C65.4,301.8 65.3,302.1 65.9,302.4C66.4,302.7 66.4,303.3 66.9,303.2C67.5,303.1 67.4,303.0 67.9,302.0C68.5,301.1 68.4,300.6 69.0,299.7C69.5,298.8 69.5,298.6 70.0,298.6C70.4,298.6 70.3,298.7 70.7,299.7C71.1,300.6 71.0,300.9 71.5,302.2C72.0,303.6 72.0,303.8 72.5,304.8C73.1,305.7 72.9,305.6 73.5,305.8C74.2,306.0 74.2,305.6 75.0,305.5C75.9,305.3 75.8,305.6 76.6,305.3C77.4,304.9 77.3,304.8 78.1,304.2C78.9,303.7 78.8,303.4 79.6,303.0C80.5,302.6 80.3,303.1 81.2,302.7C82.0,302.4 81.9,302.5 82.7,301.7C83.5,300.9 83.4,300.9 84.2,299.7C85.0,298.4 85.1,298.2 85.8,297.1C86.4,296.0 86.2,295.9 86.8,295.6C87.4,295.3 87.3,295.5 88.0,295.9C88.7,296.3 88.5,296.5 89.3,297.1C90.1,297.7 90.2,297.5 90.8,298.1C91.5,298.8 91.3,298.7 91.8,299.7C92.4,300.6 92.3,301.4 92.9,301.7C93.4,302.0 93.3,301.9 93.9,300.7C94.4,299.5 94.3,298.7 94.9,297.1C95.5,295.6 95.5,295.6 96.1,294.9C96.8,294.1 96.7,294.4 97.5,294.3C98.2,294.2 98.1,294.0 99.0,294.6C99.9,295.2 99.9,296.7 100.9,296.5C102.0,296.3 101.8,295.1 102.9,293.8C104.1,292.4 104.0,292.9 105.2,291.4C106.4,290.0 106.5,289.6 107.5,288.4C108.5,287.2 108.2,286.3 109.0,286.9C109.8,287.5 109.7,290.3 110.5,290.7C111.4,291.1 111.3,289.8 112.1,288.4C112.9,287.0 112.9,286.6 113.6,285.4C114.3,284.1 114.1,283.2 114.7,283.8C115.3,284.4 115.2,285.8 115.9,287.6C116.6,289.5 116.4,290.4 117.4,290.7C118.5,291.0 118.6,290.5 119.8,288.8C121.1,287.1 120.9,286.5 122.2,284.2C123.4,282.0 123.2,282.8 124.4,280.4C125.7,278.0 125.5,278.3 126.7,275.1C128.0,271.8 128.0,271.0 129.0,268.2C130.0,265.3 129.7,264.8 130.6,264.4C131.4,264.0 131.3,264.4 132.1,266.6C132.9,268.9 132.8,270.5 133.6,272.8C134.4,275.0 134.3,276.3 135.1,275.1C135.9,273.8 135.8,271.0 136.7,268.2C137.5,265.3 137.4,265.0 138.2,264.4C139.0,263.7 139.0,265.9 139.7,265.9C140.4,265.9 140.2,264.0 140.9,264.4C141.7,264.8 141.6,266.2 142.5,267.4C143.4,268.6 143.2,268.1 144.3,268.9C145.4,269.8 145.4,269.9 146.6,270.5C147.8,271.1 147.4,271.6 148.9,271.2C150.3,270.8 150.5,270.0 151.9,268.9C153.4,267.9 153.1,268.2 154.2,267.4C155.4,266.6 155.3,266.7 156.2,265.9C157.1,265.1 156.9,264.0 157.7,264.4C158.5,264.8 158.4,266.8 159.3,267.4C160.2,268.0 160.0,267.5 161.1,266.6C162.2,265.8 162.2,265.8 163.4,264.4C164.6,262.9 164.4,263.1 165.7,261.3C166.9,259.5 166.9,259.6 168.0,257.5C169.0,255.4 168.7,254.7 169.5,253.4C170.4,252.1 170.2,252.1 171.1,252.7C171.9,253.2 171.8,253.8 172.6,255.4C173.4,257.0 173.3,257.0 174.1,258.8C174.9,260.5 174.9,260.8 175.6,261.8C176.4,262.8 176.2,263.0 176.9,262.6C177.5,262.2 177.4,261.9 178.1,260.3C178.7,258.7 178.6,257.9 179.3,256.5C180.0,255.0 179.9,255.1 180.5,254.9C181.2,254.8 181.1,256.6 181.8,256.0C182.4,255.4 182.2,253.9 183.0,252.7C183.7,251.4 183.7,252.0 184.5,251.4C185.3,250.8 185.2,251.1 186.0,250.4C186.8,249.7 186.7,249.5 187.6,248.8C188.4,248.2 188.3,248.5 189.1,248.1C189.9,247.7 189.8,247.4 190.6,247.3C191.4,247.2 191.4,247.4 192.1,247.8C192.9,248.2 192.7,249.0 193.3,248.8C194.0,248.7 193.9,248.3 194.6,247.3C195.2,246.3 195.1,246.1 195.8,245.0C196.5,243.9 196.5,243.9 197.3,243.2C198.1,242.5 198.0,242.7 198.8,242.3C199.7,241.9 199.6,241.7 200.4,241.7C201.2,241.7 201.1,241.8 201.9,242.3C202.7,242.8 202.6,243.4 203.4,243.5C204.2,243.6 204.2,243.3 205.0,242.7C205.7,242.1 205.5,241.8 206.2,241.2C206.8,240.6 206.7,240.0 207.4,240.4C208.1,240.8 208.0,241.5 208.6,242.7C209.3,244.0 209.3,244.2 209.8,245.0C210.4,245.8 210.2,246.4 210.8,245.8C211.3,245.2 211.3,244.6 212.0,242.7C212.6,240.9 212.6,240.8 213.2,238.9C213.9,237.0 213.8,236.7 214.4,235.6C215.1,234.4 215.0,234.3 215.7,234.6C216.3,234.9 216.2,235.9 216.9,236.6C217.5,237.4 217.4,237.6 218.1,237.4C218.7,237.2 218.7,236.6 219.3,235.8C220.0,235.1 219.9,235.4 220.5,234.6C221.2,233.9 221.0,233.8 221.8,233.1C222.5,232.4 222.5,232.5 223.3,232.0C224.1,231.5 224.0,231.3 224.8,231.3C225.6,231.3 225.5,231.6 226.3,232.0C227.2,232.4 227.1,232.8 227.9,232.8C228.7,232.8 228.6,232.0 229.4,232.0C230.2,232.1 230.1,233.3 230.9,233.1C231.7,232.9 231.6,232.2 232.4,231.3C233.3,230.3 233.2,230.1 234.0,229.4C234.8,228.8 234.7,228.8 235.5,229.0C236.3,229.1 236.2,230.1 237.0,230.1C237.8,230.1 237.7,229.6 238.6,229.0C239.4,228.4 239.3,228.4 240.1,227.9C240.9,227.4 240.8,227.4 241.6,227.0C242.4,226.6 242.3,226.4 243.1,226.4C244.0,226.4 243.9,226.5 244.7,227.0C245.4,227.5 245.2,228.2 245.9,228.2C246.6,228.2 246.6,227.7 247.4,227.0C248.3,226.3 248.2,226.3 249.1,225.8C249.9,225.3 249.8,225.2 250.6,225.2C251.4,225.2 251.3,225.5 252.1,225.8C252.9,226.0 252.8,226.7 253.6,226.2C254.5,225.7 254.3,225.6 255.2,223.9C256.0,222.3 255.9,221.8 256.7,220.1C257.5,218.4 257.5,218.4 258.2,217.5C259.0,216.6 258.8,216.7 259.4,216.6C260.1,216.5 260.0,217.1 260.7,217.1C261.3,217.0 261.2,216.8 261.9,216.3C262.5,215.8 262.5,215.6 263.1,215.1C263.8,214.6 263.7,214.2 264.3,214.5C265.0,214.7 264.9,215.2 265.6,216.0C266.2,216.8 266.1,217.0 266.8,217.5C267.4,218.0 267.3,218.1 268.0,217.8C268.6,217.5 268.6,217.5 269.2,216.3C269.9,215.1 269.8,214.8 270.4,213.2C271.1,211.7 271.0,211.5 271.7,210.5C272.3,209.5 272.2,209.3 272.9,209.4C273.5,209.5 273.4,210.0 274.1,210.9C274.8,211.9 274.7,212.0 275.3,212.9C276.0,213.9 275.9,214.0 276.6,214.5C277.2,214.9 277.1,215.1 277.8,214.8C278.4,214.4 278.3,214.4 279.0,213.2C279.6,212.1 279.6,211.7 280.2,210.5C280.9,209.3 280.8,209.3 281.4,208.7C282.1,208.0 282.0,207.9 282.6,207.9C283.3,207.9 283.2,208.8 283.9,208.7C284.5,208.5 284.4,208.2 285.1,207.4C285.8,206.7 285.7,206.5 286.3,205.9C287.0,205.3 286.9,205.2 287.5,205.3C288.2,205.4 288.1,205.5 288.8,206.4C289.4,207.2 289.3,207.4 290.0,208.3C290.6,209.3 290.6,209.3 291.2,209.9C291.9,210.5 291.8,210.6 292.4,210.5C293.1,210.4 293.0,210.4 293.6,209.4C294.3,208.4 294.2,208.0 294.9,206.8C295.5,205.6 295.4,205.5 296.1,204.8C296.7,204.2 296.7,204.1 297.3,204.4C298.0,204.7 297.9,204.9 298.5,205.9C299.2,207.0 299.1,207.2 299.8,208.3C300.4,209.5 300.3,209.5 301.0,210.2C301.6,210.9 301.5,210.9 302.2,210.9C302.9,211.0 302.8,211.1 303.4,210.5C304.1,209.9 304.0,209.8 304.6,208.7C305.3,207.5 305.2,207.4 305.9,206.4C306.5,205.3 306.4,205.4 307.1,204.8C307.7,204.3 307.7,204.4 308.3,204.4C309.0,204.4 308.9,204.8 309.5,204.8C310.2,204.8 310.1,204.7 310.8,204.4C311.4,204.1 311.3,204.5 312.0,203.8C312.6,203.1 312.5,203.3 313.2,201.8C313.9,200.2 313.8,199.7 314.4,198.0C315.1,196.2 315.0,196.1 315.6,195.2C316.3,194.3 316.2,194.3 316.9,194.6C317.5,194.9 317.4,195.1 318.1,196.4C318.7,197.7 318.7,198.1 319.3,199.5C320.0,200.9 319.9,201.3 320.5,201.8C321.2,202.3 321.1,202.7 321.8,201.3C322.4,199.9 322.3,198.4 322.9,196.5C323.5,194.6 323.5,195.0 324.1,194.2C324.8,193.4 324.7,193.3 325.3,193.4C326.0,193.6 325.9,194.1 326.6,194.7C327.2,195.3 327.1,195.9 327.8,195.8C328.4,195.6 328.3,195.0 329.0,194.2C329.7,193.4 329.6,193.3 330.2,192.7C330.9,192.1 330.8,192.2 331.4,191.9C332.1,191.6 332.0,191.9 332.7,191.6C333.3,191.3 333.2,191.2 333.9,190.7C334.5,190.2 334.5,190.5 335.1,189.6C335.8,188.8 335.7,188.9 336.3,187.7C337.0,186.4 336.9,186.3 337.6,185.1C338.2,183.8 338.1,183.9 338.8,183.1C339.4,182.3 339.3,182.2 340.0,182.0C340.6,181.8 340.6,182.1 341.2,182.5C341.9,182.9 341.8,183.0 342.4,183.5C343.1,184.1 343.0,184.2 343.7,184.6C344.3,185.0 344.2,185.1 344.9,185.1C345.5,185.1 345.4,184.6 346.1,184.6C346.8,184.6 346.7,185.2 347.3,185.1C348.0,184.9 347.9,185.0 348.6,184.0C349.2,183.0 349.1,182.8 349.8,181.2C350.4,179.7 350.3,179.2 351.0,178.2C351.6,177.2 351.6,177.2 352.2,177.4C352.8,177.6 352.6,177.5 353.1,178.9C353.6,180.4 353.5,180.9 354.0,182.8C354.6,184.6 354.6,184.7 355.3,185.8C355.9,187.0 355.8,186.4 356.5,187.0C357.1,187.7 357.1,187.5 357.7,188.1C358.4,188.7 358.3,188.7 358.9,189.2C359.6,189.7 359.5,189.6 360.1,190.1C360.8,190.6 360.7,190.5 361.4,191.2C362.0,191.9 361.9,192.0 362.6,192.7C363.3,193.4 363.2,193.2 363.8,193.8C364.5,194.3 364.5,194.6 365.0,194.7C365.6,194.8 365.5,195.0 366.0,194.2C366.4,193.5 366.3,193.4 366.9,191.9C367.4,190.4 367.4,190.0 368.1,188.6C368.7,187.1 368.7,187.5 369.3,186.6C370.0,185.6 369.9,185.7 370.5,185.1C371.2,184.4 371.1,184.8 371.8,184.3C372.4,183.8 372.3,183.9 373.0,183.1C373.6,182.3 373.5,182.3 374.2,181.2C374.9,180.1 374.8,180.4 375.4,178.9C376.1,177.5 376.0,177.6 376.6,175.9C377.3,174.1 377.2,174.0 377.9,172.4C378.5,170.8 378.4,170.9 379.1,169.8C379.7,168.7 379.7,168.5 380.3,168.2C381.0,168.0 380.9,168.8 381.5,168.7C382.2,168.6 382.1,168.5 382.8,167.8C383.4,167.1 383.3,167.5 384.0,166.0C384.6,164.5 384.5,164.0 385.2,162.2C385.9,160.3 385.8,160.2 386.4,159.1C387.1,158.0 387.0,158.0 387.6,158.0C388.3,158.0 388.2,159.1 388.9,159.1C389.5,159.1 389.4,158.7 390.1,158.0C390.7,157.3 390.7,157.3 391.3,156.5C391.9,155.7 391.8,155.9 392.4,155.2C393.1,154.4 393.0,154.5 393.7,153.6C394.3,152.8 394.2,152.7 394.9,152.1C395.5,151.5 395.5,151.6 396.1,151.3C396.8,151.1 396.7,151.1 397.3,151.3C398.0,151.6 397.9,151.7 398.6,152.1C399.2,152.5 399.1,152.3 399.8,152.9C400.4,153.4 400.3,153.4 401.0,154.1C401.7,154.8 401.6,154.8 402.2,155.6C402.9,156.4 402.8,156.3 403.4,157.2C404.1,158.0 404.0,157.9 404.7,158.7C405.3,159.5 405.2,159.5 405.9,160.2C406.5,160.9 406.5,161.2 407.1,161.3C407.7,161.4 407.5,161.5 408.0,160.5C408.5,159.5 408.5,158.9 408.9,157.4C409.4,156.0 409.3,156.0 409.9,155.2C410.4,154.3 410.4,154.4 411.1,154.4C411.7,154.4 411.7,155.4 412.3,155.2C412.9,155.0 412.7,154.7 413.2,153.6C413.7,152.6 413.6,152.5 414.1,151.3C414.7,150.2 414.7,149.9 415.4,149.5C416.0,149.1 416.0,149.2 416.6,149.8C417.1,150.4 417.0,150.8 417.5,151.7C418.0,152.5 417.9,152.9 418.4,153.2C418.9,153.4 418.8,153.3 419.3,152.6C419.8,151.9 419.7,151.9 420.2,150.6C420.8,149.2 420.8,148.9 421.5,147.5C422.1,146.2 422.0,146.2 422.7,145.5C423.3,144.8 423.3,145.1 423.9,144.9C424.6,144.8 424.5,145.1 425.1,144.9C425.8,144.8 425.7,144.7 426.4,144.5C427.0,144.2 426.9,144.3 427.6,144.0C428.2,143.7 428.2,144.1 428.8,143.4C429.4,142.7 429.2,142.9 429.7,141.4C430.2,140.0 430.1,139.7 430.6,137.9C431.1,136.1 431.1,136.1 431.5,134.6C432.0,133.0 431.9,133.1 432.5,132.2C433.0,131.4 433.0,131.6 433.7,131.5C434.3,131.4 434.2,131.8 434.9,131.8C435.6,131.8 435.5,132.0 436.1,131.5C436.8,131.0 436.7,131.0 437.4,130.0C438.0,128.9 437.9,129.0 438.6,127.7C439.2,126.4 439.4,126.3 439.8,125.1C440.2,123.8 439.7,124.3 440.1,123.0C440.4,121.6 440.6,121.4 441.3,119.9C441.9,118.4 441.8,118.4 442.5,117.3C443.1,116.2 443.1,116.1 443.7,115.8C444.4,115.4 444.4,115.5 444.9,116.1C445.5,116.6 445.4,117.2 445.9,117.9C446.3,118.6 446.3,119.0 446.8,118.8C447.3,118.7 447.2,118.2 447.7,117.3C448.2,116.4 448.1,116.1 448.6,115.3C449.1,114.5 449.0,114.4 449.5,114.2C450.0,114.1 450.0,114.2 450.4,114.8C450.9,115.5 450.9,115.9 451.4,116.8C451.8,117.8 451.8,117.8 452.3,118.4C452.8,118.9 452.7,119.1 453.2,118.8C453.7,118.5 453.6,118.1 454.1,117.3C454.6,116.5 454.5,116.2 455.0,115.8C455.5,115.4 455.4,115.5 455.9,115.8C456.4,116.1 456.4,115.9 456.9,116.8C457.3,117.8 457.3,118.2 457.8,119.4C458.3,120.7 458.2,120.8 458.7,121.4C459.2,122.1 459.1,122.1 459.6,121.9C460.1,121.7 460.0,121.7 460.5,120.7C461.0,119.6 460.9,119.3 461.4,117.9C461.9,116.5 461.9,116.2 462.4,115.3C462.8,114.4 462.8,114.5 463.3,114.5C463.8,114.5 463.7,114.4 464.2,115.3C464.7,116.2 464.6,116.6 465.1,117.9C465.6,119.3 465.5,119.5 466.0,120.3C466.5,121.2 466.4,121.2 466.9,121.0C467.4,120.7 467.4,120.5 467.9,119.4C468.3,118.3 468.3,117.8 468.8,116.8C469.2,115.9 469.2,115.9 469.7,115.8C470.2,115.6 470.1,116.0 470.6,116.4C471.1,116.8 471.0,117.2 471.5,117.3C472.0,117.4 471.9,117.4 472.4,116.8C472.9,116.3 472.9,116.3 473.4,115.3C473.8,114.3 473.8,114.1 474.3,113.0C474.7,111.9 474.7,111.8 475.2,111.2C475.7,110.6 475.6,110.7 476.1,110.7C476.6,110.7 476.5,111.2 477.0,111.2C477.5,111.2 477.4,111.3 477.9,110.7C478.4,110.2 478.4,110.3 478.8,109.2C479.3,108.1 479.3,107.7 479.8,106.6C480.3,105.5 480.2,105.6 480.7,105.1C481.2,104.6 481.1,104.5 481.6,104.6C482.1,104.7 481.9,104.8 482.5,105.4C483.1,106.0 483.1,106.2 483.7,106.9C484.4,107.6 484.3,107.5 484.9,108.1C485.6,108.7 485.5,108.8 486.2,109.2C486.8,109.6 486.7,109.7 487.4,109.7C488.1,109.7 488.0,109.6 488.6,109.2C489.3,108.8 489.2,108.8 489.8,108.1C490.5,107.4 490.4,107.5 491.1,106.6C491.7,105.7 491.6,105.8 492.3,104.6C492.9,103.5 492.6,104.0 493.5,102.3C494.4,100.6 494.8,99.7 495.8,98.2C496.8,96.7 496.5,96.7 497.3,96.7C498.1,96.7 498.0,98.4 498.8,98.2C499.7,98.0 499.3,97.3 500.4,95.9C501.4,94.5 501.4,94.3 502.6,92.8C503.9,91.4 503.7,91.8 504.9,90.5C506.2,89.3 506.0,89.7 507.2,88.2C508.5,86.8 508.5,86.6 509.5,85.2C510.5,83.8 510.2,83.2 511.1,82.9C511.9,82.6 511.8,83.5 512.6,84.1C513.4,84.7 513.3,85.1 514.1,85.2C514.9,85.3 514.8,84.2 515.6,84.4C516.5,84.7 516.3,85.5 517.2,86.3C518.0,87.0 517.9,87.1 518.7,87.2C519.5,87.3 519.2,87.0 520.2,86.7C521.2,86.5 521.5,87.1 522.5,86.3C523.5,85.5 523.2,85.1 524.0,83.7C524.9,82.3 524.7,82.0 525.6,81.1C526.4,80.1 526.3,80.2 527.1,80.2C527.9,80.2 527.8,80.5 528.6,81.1C529.4,81.6 529.7,81.9 530.1,82.2" stroke="#a52226" stroke-width="1.55" fill="none" stroke-linejoin="round" stroke-linecap="round"/>
</g>
<g font-family="'Liberation Sans', sans-serif" font-size="9.4" fill="#1a1a1a" stroke="#1a1a1a" stroke-width="0.25">
<text x="48.9" y="364.5" text-anchor="middle">1993</text>
<text x="83.7" y="364.5" text-anchor="middle">1995</text>
<text x="118.5" y="364.5" text-anchor="middle">1997</text>
<text x="153.2" y="364.5" text-anchor="middle">1999</text>
<text x="188.0" y="364.5" text-anchor="middle">2001</text>
<text x="222.8" y="364.5" text-anchor="middle">2003</text>
<text x="257.6" y="364.5" text-anchor="middle">2005</text>
<text x="292.4" y="364.5" text-anchor="middle">2007</text>
<text x="327.1" y="364.5" text-anchor="middle">2009</text>
<text x="361.9" y="364.5" text-anchor="middle">2011</text>
<text x="396.7" y="364.5" text-anchor="middle">2013</text>
<text x="431.5" y="364.5" text-anchor="middle">2015</text>
<text x="466.3" y="364.5" text-anchor="middle">2017</text>
<text x="501.0" y="364.5" text-anchor="middle">2019</text>
<text x="535.8" y="364.5" text-anchor="middle">2021</text>
<text x="32.9" y="354.7" text-anchor="end">−2</text>
<text x="32.9" y="306.8" text-anchor="end">0</text>
<text x="32.9" y="258.9" text-anchor="end">2</text>
<text x="32.9" y="211.0" text-anchor="end">4</text>
<text x="32.9" y="163.1" text-anchor="end">6</text>
<text x="32.9" y="115.2" text-anchor="end">8</text>
<text x="32.9" y="67.3" text-anchor="end">10</text>
</g>
<text transform="translate(16.8,210.2) rotate(-90)" text-anchor="middle" font-family="'Liberation Sans', sans-serif" font-size="10.55" fill="#1a1a1a" stroke="#1a1a1a" stroke-width="0.15">Mean Sea Level (cm)</text>
<text x="38.4" y="15.5" font-family="'Liberation Sans', sans-serif" font-size="10.55" fill="#1a1a1a" stroke="#1a1a1a" stroke-width="0.2">Latest MSL Measurement</text>
<text x="38.4" y="27.6" font-family="'Liberation Sans', sans-serif" font-size="10.55" fill="#1a1a1a" stroke="#1a1a1a" stroke-width="0.2">14 September. 2020</text>
<g font-family="'Liberation Sans', sans-serif" font-size="26" fill="#8b1515"><text x="386.4" y="26.4">+3.42</text><text x="460" y="26.4">mm</text><text transform="translate(510.9,33.4) scale(1.5,1.12)" x="-5.03" y="0" font-size="35.2" stroke="#fff" stroke-width="2.0">/</text><text x="516.9" y="26.4">yr</text></g>
<text x="539.3" y="50.0" text-anchor="end" font-family="'Liberation Sans', sans-serif" font-size="13.69" fill="#1a1a1a" stroke="#1a1a1a" stroke-width="0.15">Reference GMSL - corrected for GIA</text>
<text x="523.5" y="382.6" text-anchor="end" font-family="'Liberation Sans', sans-serif" font-size="9.45" fill="#1a1a1a" stroke="#1a1a1a" stroke-width="0.22">© CNES,LEGOS,CLS</text>
</svg>
</body></html>
